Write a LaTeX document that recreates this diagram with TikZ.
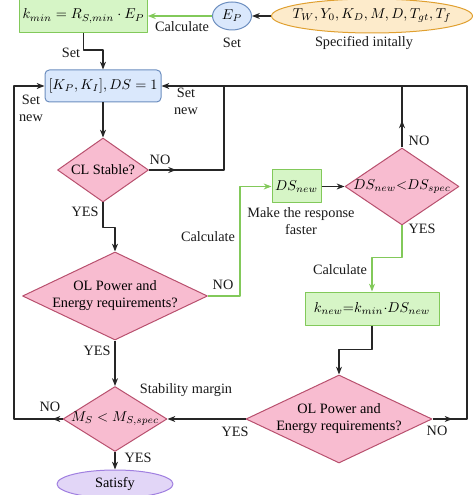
\documentclass[tikz,border=0pt]{standalone}
\usepackage{fontspec}
\setmainfont{Liberation Serif}
\usetikzlibrary{shapes.geometric,decorations.markings,arrows.meta}
\definecolor{boxgreen}{HTML}{D6F5C6}
\definecolor{linegreen}{HTML}{82C95A}
\definecolor{boxblue}{HTML}{DAE8FC}
\definecolor{lineblue}{HTML}{6C8EBF}
\definecolor{boxpink}{HTML}{F8BCD0}
\definecolor{linepink}{HTML}{B8506E}
\definecolor{boxorange}{HTML}{FDEBCB}
\definecolor{lineorange}{HTML}{E0A030}
\definecolor{boxpurple}{HTML}{E2D6F7}
\definecolor{linepurple}{HTML}{A07FE0}
\definecolor{flow}{HTML}{262626}
\begin{document}
\begin{tikzpicture}[x=0.7pt, y=-0.7pt, line join=round, >={Stealth[length=5.5pt,width=4.2pt]}, font=\rmfamily\normalsize]
	\tikzset{
		greenbox/.style={draw=linegreen, fill=boxgreen, line width=0.7pt, inner sep=2pt},
		bluebox/.style={draw=lineblue, fill=boxblue, rounded corners=3pt, line width=0.7pt, inner sep=2pt},
		decide/.style={diamond, draw=linepink, fill=boxpink, line width=0.7pt, inner sep=0pt},
		oval/.style={ellipse, line width=0.7pt, inner sep=0pt},
		flowline/.style={color=flow, line width=0.85pt},
		greenline/.style={color=linegreen, line width=0.8pt},
		midarr/.style={postaction={decorate}, decoration={markings, mark=at position #1 with {\arrow{>}}}},
		lbl/.style={align=center, inner sep=0pt, text=black!90}
	}
	\useasboundingbox (0,0) rectangle (474,495);
	% blocks
	\node[greenbox, minimum width=86.1pt, minimum height=23.1pt] (kmin) at (83.5,16) {$k_{min}=R_{S,min}\cdot E_P$};
	\node[oval, draw=lineblue, fill=boxblue, minimum width=27.3pt, minimum height=19.6pt] (ep) at (232,16) {$E_P$};
	\node[oval, draw=lineorange, fill=boxorange, minimum width=140.7pt, minimum height=23.8pt,
		label=center:{$T_W,Y_0,K_D,M,D,T_{gt},T_f$}] (spec) at (372,16) {};
	\node[bluebox, minimum width=81.2pt, minimum height=22.4pt] (init) at (103,86) {$[K_P,K_I],DS=1$};
	\node[decide, minimum width=63.7pt, minimum height=44.8pt, label=center:CL Stable?] (cl) at (103,170) {};
	\node[decide, minimum width=129.5pt, minimum height=61.6pt,
		label={[align=center]center:OL Power and\\Energy requirements?}] (ol1) at (115,296) {};
	\node[greenbox, minimum width=34.3pt, minimum height=23.1pt] (dsn) at (296.5,186.5) {$DS_{new}$};
	\node[decide, minimum width=79.8pt, minimum height=53.9pt,
		label=center:{$DS_{new}{<}DS_{spec}$}] (ds) at (402,186.5) {};
	\node[greenbox, minimum width=93.8pt, minimum height=23.1pt] (knew) at (372,308.5) {$k_{new}{=}k_{min}{\cdot}DS_{new}$};
	\node[decide, minimum width=130.2pt, minimum height=61.6pt,
		label={[align=center]center:OL Power and\\Energy requirements?}] (ol2) at (339,419) {};
	\node[decide, minimum width=72.8pt, minimum height=45.5pt,
		label=center:{$M_S<M_{S,spec}$}] (ms) at (115,419) {};
	\node[oval, draw=linepurple, fill=boxpurple, minimum width=81.2pt, minimum height=19.6pt] (sat) at (115,484) {Satisfy};
	\path (14,86) coordinate (lcnr)
		(224,86) coordinate (jcl)
		(467,86) coordinate (rcnr)
		(240,186.5) coordinate (gcnr);
	% connectors
	\draw[flowline, ->] (spec.west) -- (ep.east);
	\draw[greenline, ->] (ep.west) -- (kmin.east);
	\draw[flowline, ->] (kmin.south) -- ++(0,17) -| (init.north);
	\draw[flowline, ->] (init.south) -- (cl.north);
	\draw[flowline, midarr=19pt] (cl.east) -| (jcl);
	\draw[flowline, ->] (cl.south) -- ++(0,25) -| (ol1.north);
	\draw[greenline, ->] (ol1.east) -| (gcnr) -- (dsn.west);
	\draw[flowline, ->] (dsn.east) -- (ds.west);
	\draw[flowline, midarr=19pt] (ds.north) -- (ds.north |- init.east);
	\draw[greenline, ->] (ds.south) -- ++(0,32) -| (knew.north);
	\draw[flowline, ->] (knew.south) -- ++(0,24) -| (ol2.north);
	\draw[flowline, ->, midarr=14pt] (ol2.east) -| (rcnr) -- (init.east);
	\draw[flowline, ->] (ol2.west) -- (ms.east);
	\draw[flowline, ->] (ol1.south) -- (ms.north);
	\draw[flowline, ->, midarr=7pt] (ms.west) -| (lcnr) -- (init.west);
	\draw[flowline, ->] (ms.south) -- (sat.north);
	% texts
	\foreach \x/\y/\t [count=\i] in {71/53/Set, 232/43/Set, 364/43/Specified initally, 182/27/Calculate,
		31/108/Set\\new, 186/101/Set\\new, 160/160/NO, 85/212/YES, 208/237/Calculate, 223/285/NO,
		419/141/NO, 301/221/Make the response\\faster, 422/229/YES, 340/270/Calculate,
		437/431/NO, 235/432/YES, 186/390/Stability margin, 97/351/YES, 50/407/NO, 138/458/YES}
		\node[lbl] (txt\i) at (\x,\y) {\t};
\end{tikzpicture}
\end{document}
